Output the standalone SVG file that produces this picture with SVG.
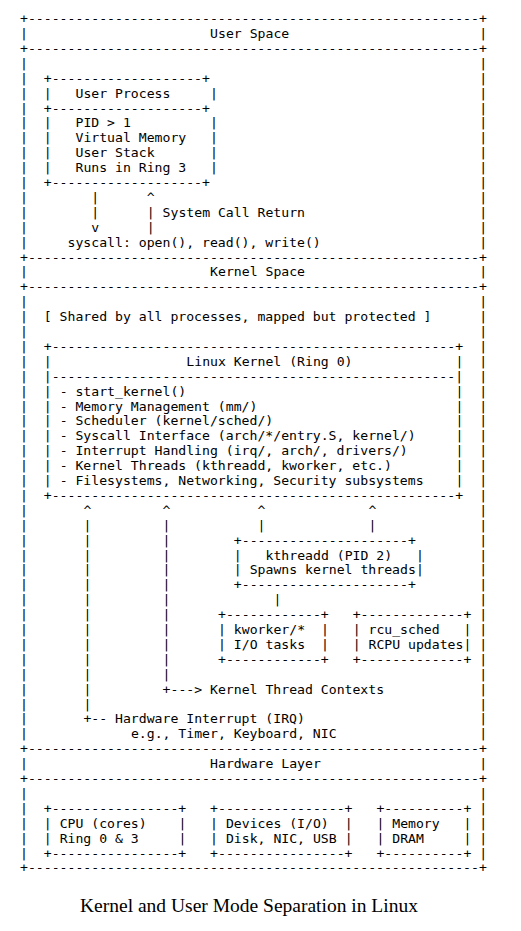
<svg xmlns="http://www.w3.org/2000/svg" width="521" height="931" viewBox="0 0 521 931">
<style>
.m{font-family:"DejaVu Sans Mono","Liberation Mono",monospace;font-size:13.153px;fill:#000;white-space:pre}
.cap{font-family:"Liberation Serif","DejaVu Serif",serif;font-size:19.5px;fill:#000}
</style>
<rect width="521" height="931" fill="#fff"/>
<g id="frame" class="m">
<text x="20.04" y="23.1">+---------------------------------------------------------+</text>
<text x="20.04" y="52.9">+---------------------------------------------------------+</text>
<text x="20.04" y="261.5">+---------------------------------------------------------+</text>
<text x="20.04" y="291.3">+---------------------------------------------------------+</text>
<text x="20.04" y="753.2">+---------------------------------------------------------+</text>
<text x="20.04" y="783.0">+---------------------------------------------------------+</text>
<text x="20.04" y="872.4">+---------------------------------------------------------+</text>
<text><tspan x="20.04" y="38.0">|</tspan><tspan x="20.04" y="67.8">|</tspan><tspan x="20.04" y="82.7">|</tspan><tspan x="20.04" y="97.6">|</tspan><tspan x="20.04" y="112.5">|</tspan><tspan x="20.04" y="127.4">|</tspan><tspan x="20.04" y="142.3">|</tspan><tspan x="20.04" y="157.2">|</tspan><tspan x="20.04" y="172.1">|</tspan><tspan x="20.04" y="187.0">|</tspan><tspan x="20.04" y="201.9">|</tspan><tspan x="20.04" y="216.8">|</tspan><tspan x="20.04" y="231.7">|</tspan><tspan x="20.04" y="246.6">|</tspan><tspan x="20.04" y="276.4">|</tspan><tspan x="20.04" y="306.2">|</tspan><tspan x="20.04" y="321.1">|</tspan><tspan x="20.04" y="336.0">|</tspan><tspan x="20.04" y="350.9">|</tspan><tspan x="20.04" y="365.8">|</tspan><tspan x="20.04" y="380.7">|</tspan><tspan x="20.04" y="395.6">|</tspan><tspan x="20.04" y="410.5">|</tspan><tspan x="20.04" y="425.4">|</tspan><tspan x="20.04" y="440.3">|</tspan><tspan x="20.04" y="455.2">|</tspan><tspan x="20.04" y="470.1">|</tspan><tspan x="20.04" y="485.0">|</tspan><tspan x="20.04" y="499.9">|</tspan><tspan x="20.04" y="514.8">|</tspan><tspan x="20.04" y="529.7">|</tspan><tspan x="20.04" y="544.6">|</tspan><tspan x="20.04" y="559.5">|</tspan><tspan x="20.04" y="574.4">|</tspan><tspan x="20.04" y="589.3">|</tspan><tspan x="20.04" y="604.2">|</tspan><tspan x="20.04" y="619.1">|</tspan><tspan x="20.04" y="634.0">|</tspan><tspan x="20.04" y="648.9">|</tspan><tspan x="20.04" y="663.8">|</tspan><tspan x="20.04" y="678.7">|</tspan><tspan x="20.04" y="693.6">|</tspan><tspan x="20.04" y="708.5">|</tspan><tspan x="20.04" y="723.4">|</tspan><tspan x="20.04" y="738.3">|</tspan><tspan x="20.04" y="768.1">|</tspan><tspan x="20.04" y="797.9">|</tspan><tspan x="20.04" y="812.8">|</tspan><tspan x="20.04" y="827.7">|</tspan><tspan x="20.04" y="842.6">|</tspan><tspan x="20.04" y="857.5">|</tspan></text>
<text><tspan x="479.34" y="38.0">|</tspan><tspan x="479.34" y="67.8">|</tspan><tspan x="479.34" y="82.7">|</tspan><tspan x="479.34" y="97.6">|</tspan><tspan x="479.34" y="112.5">|</tspan><tspan x="479.34" y="127.4">|</tspan><tspan x="479.34" y="142.3">|</tspan><tspan x="479.34" y="157.2">|</tspan><tspan x="479.34" y="172.1">|</tspan><tspan x="479.34" y="187.0">|</tspan><tspan x="479.34" y="201.9">|</tspan><tspan x="479.34" y="216.8">|</tspan><tspan x="479.34" y="231.7">|</tspan><tspan x="479.34" y="246.6">|</tspan><tspan x="479.34" y="276.4">|</tspan><tspan x="479.34" y="306.2">|</tspan><tspan x="479.34" y="321.1">|</tspan><tspan x="479.34" y="336.0">|</tspan><tspan x="479.34" y="350.9">|</tspan><tspan x="479.34" y="365.8">|</tspan><tspan x="479.34" y="380.7">|</tspan><tspan x="479.34" y="395.6">|</tspan><tspan x="479.34" y="410.5">|</tspan><tspan x="479.34" y="425.4">|</tspan><tspan x="479.34" y="440.3">|</tspan><tspan x="479.34" y="455.2">|</tspan><tspan x="479.34" y="470.1">|</tspan><tspan x="479.34" y="485.0">|</tspan><tspan x="479.34" y="499.9">|</tspan><tspan x="479.34" y="514.8">|</tspan><tspan x="479.34" y="529.7">|</tspan><tspan x="479.34" y="544.6">|</tspan><tspan x="479.34" y="559.5">|</tspan><tspan x="479.34" y="574.4">|</tspan><tspan x="479.34" y="589.3">|</tspan><tspan x="479.34" y="604.2">|</tspan><tspan x="479.34" y="619.1">|</tspan><tspan x="479.34" y="634.0">|</tspan><tspan x="479.34" y="648.9">|</tspan><tspan x="479.34" y="663.8">|</tspan><tspan x="479.34" y="678.7">|</tspan><tspan x="479.34" y="693.6">|</tspan><tspan x="479.34" y="708.5">|</tspan><tspan x="479.34" y="723.4">|</tspan><tspan x="479.34" y="738.3">|</tspan><tspan x="479.34" y="768.1">|</tspan><tspan x="479.34" y="797.9">|</tspan><tspan x="479.34" y="812.8">|</tspan><tspan x="479.34" y="827.7">|</tspan><tspan x="479.34" y="842.6">|</tspan><tspan x="479.34" y="857.5">|</tspan></text>
</g>
<g id="user-space" class="m">
<text x="210.10" y="38.0">User Space</text>
</g>
<g id="kernel-space" class="m">
<text x="210.10" y="276.4">Kernel Space</text>
<text x="43.80" y="321.1">[ Shared by all processes, mapped but protected ]</text>
</g>
<g id="hardware-layer" class="m">
<text x="210.10" y="768.1">Hardware Layer</text>
</g>
<g id="user-process" class="m">
<text x="43.80" y="82.7">+-------------------+</text>
<text x="43.80" y="97.6">|</text><text x="75.47" y="97.6">User Process</text><text x="210.10" y="97.6">|</text>
<text x="43.80" y="112.5">+-------------------+</text>
<text x="43.80" y="127.4">|</text><text x="75.47" y="127.4">PID &gt; 1</text><text x="210.10" y="127.4">|</text>
<text x="43.80" y="142.3">|</text><text x="75.47" y="142.3">Virtual Memory</text><text x="210.10" y="142.3">|</text>
<text x="43.80" y="157.2">|</text><text x="75.47" y="157.2">User Stack</text><text x="210.10" y="157.2">|</text>
<text x="43.80" y="172.1">|</text><text x="75.47" y="172.1">Runs in Ring 3</text><text x="210.10" y="172.1">|</text>
<text x="43.80" y="187.0">+-------------------+</text>
</g>
<g id="linux-kernel" class="m">
<text x="43.80" y="350.9">+---------------------------------------------------+</text>
<text x="43.80" y="365.8">|</text><text x="186.34" y="365.8">Linux Kernel (Ring 0)</text><text x="455.59" y="365.8">|</text>
<text x="43.80" y="380.7">|---------------------------------------------------|</text>
<text x="43.80" y="395.6">|</text><text x="59.64" y="395.6">- start_kernel()</text><text x="455.59" y="395.6">|</text>
<text x="43.80" y="410.5">|</text><text x="59.64" y="410.5">- Memory Management (mm/)</text><text x="455.59" y="410.5">|</text>
<text x="43.80" y="425.4">|</text><text x="59.64" y="425.4">- Scheduler (kernel/sched/)</text><text x="455.59" y="425.4">|</text>
<text x="43.80" y="440.3">|</text><text x="59.64" y="440.3">- Syscall Interface (arch/*/entry.S, kernel/)</text><text x="455.59" y="440.3">|</text>
<text x="43.80" y="455.2">|</text><text x="59.64" y="455.2">- Interrupt Handling (irq/, arch/, drivers/)</text><text x="455.59" y="455.2">|</text>
<text x="43.80" y="470.1">|</text><text x="59.64" y="470.1">- Kernel Threads (kthreadd, kworker, etc.)</text><text x="455.59" y="470.1">|</text>
<text x="43.80" y="485.0">|</text><text x="59.64" y="485.0">- Filesystems, Networking, Security subsystems</text><text x="455.59" y="485.0">|</text>
<text x="43.80" y="499.9">+---------------------------------------------------+</text>
</g>
<g id="kthreadd" class="m">
<text x="233.85" y="544.6">+---------------------+</text>
<text x="233.85" y="559.5">|</text><text x="265.53" y="559.5">kthreadd (PID 2)</text><text x="415.99" y="559.5">|</text>
<text x="233.85" y="574.4">|</text><text x="249.69" y="574.4">Spawns kernel threads</text><text x="415.99" y="574.4">|</text>
<text x="233.85" y="589.3">+---------------------+</text>
</g>
<g id="kworker" class="m">
<text x="218.02" y="619.1">+------------+</text>
<text x="218.02" y="634.0">|</text><text x="233.85" y="634.0">kworker/*</text><text x="320.96" y="634.0">|</text>
<text x="218.02" y="648.9">|</text><text x="233.85" y="648.9">I/O tasks</text><text x="320.96" y="648.9">|</text>
<text x="218.02" y="663.8">+------------+</text>
</g>
<g id="rcu-sched" class="m">
<text x="352.64" y="619.1">+-------------+</text>
<text x="352.64" y="634.0">|</text><text x="368.48" y="634.0">rcu_sched</text><text x="463.50" y="634.0">|</text>
<text x="352.64" y="648.9">|</text><text x="368.48" y="648.9">RCPU updates</text><text x="463.50" y="648.9">|</text>
<text x="352.64" y="663.8">+-------------+</text>
</g>
<g id="cpu" class="m">
<text x="43.80" y="812.8">+----------------+</text>
<text x="43.80" y="827.7">|</text><text x="59.64" y="827.7">CPU (cores)</text><text x="178.42" y="827.7">|</text>
<text x="43.80" y="842.6">|</text><text x="59.64" y="842.6">Ring 0 &amp; 3</text><text x="178.42" y="842.6">|</text>
<text x="43.80" y="857.5">+----------------+</text>
</g>
<g id="devices" class="m">
<text x="210.10" y="812.8">+----------------+</text>
<text x="210.10" y="827.7">|</text><text x="225.93" y="827.7">Devices (I/O)</text><text x="344.72" y="827.7">|</text>
<text x="210.10" y="842.6">|</text><text x="225.93" y="842.6">Disk, NIC, USB</text><text x="344.72" y="842.6">|</text>
<text x="210.10" y="857.5">+----------------+</text>
</g>
<g id="memory" class="m">
<text x="376.40" y="812.8">+----------+</text>
<text x="376.40" y="827.7">|</text><text x="392.23" y="827.7">Memory</text><text x="463.50" y="827.7">|</text>
<text x="376.40" y="842.6">|</text><text x="392.23" y="842.6">DRAM</text><text x="463.50" y="842.6">|</text>
<text x="376.40" y="857.5">+----------+</text>
</g>
<g id="connectors" class="m">
<text x="91.31" y="201.9">|</text><text x="146.74" y="201.9">^</text>
<text x="91.31" y="216.8">|</text><text x="146.74" y="216.8">|</text><text x="162.58" y="216.8">System Call Return</text>
<text x="91.31" y="231.7">v</text><text x="146.74" y="231.7">|</text>
<text x="67.55" y="246.6">syscall: open(), read(), write()</text>
<text x="83.39" y="514.8">^</text><text x="162.58" y="514.8">^</text><text x="257.61" y="514.8">^</text><text x="368.48" y="514.8">^</text>
<text x="257.61" y="529.7">|</text><text x="368.48" y="529.7">|</text>
<text><tspan x="83.39" y="529.7">|</tspan><tspan x="83.39" y="544.6">|</tspan><tspan x="83.39" y="559.5">|</tspan><tspan x="83.39" y="574.4">|</tspan><tspan x="83.39" y="589.3">|</tspan><tspan x="83.39" y="604.2">|</tspan><tspan x="83.39" y="619.1">|</tspan><tspan x="83.39" y="634.0">|</tspan><tspan x="83.39" y="648.9">|</tspan><tspan x="83.39" y="663.8">|</tspan><tspan x="83.39" y="678.7">|</tspan><tspan x="83.39" y="693.6">|</tspan><tspan x="83.39" y="708.5">|</tspan></text>
<text><tspan x="162.58" y="529.7">|</tspan><tspan x="162.58" y="544.6">|</tspan><tspan x="162.58" y="559.5">|</tspan><tspan x="162.58" y="574.4">|</tspan><tspan x="162.58" y="589.3">|</tspan><tspan x="162.58" y="604.2">|</tspan><tspan x="162.58" y="619.1">|</tspan><tspan x="162.58" y="634.0">|</tspan><tspan x="162.58" y="648.9">|</tspan><tspan x="162.58" y="663.8">|</tspan><tspan x="162.58" y="678.7">|</tspan></text>
<text x="273.45" y="604.2">|</text>
<text x="162.58" y="693.6">+---&gt; Kernel Thread Contexts</text>
<text x="83.39" y="723.4">+-- Hardware Interrupt (IRQ)</text>
<text x="130.91" y="738.3">e.g., Timer, Keyboard, NIC</text>
</g>
<text class="cap" x="249" y="912" text-anchor="middle">Kernel and User Mode Separation in Linux</text>
</svg>
